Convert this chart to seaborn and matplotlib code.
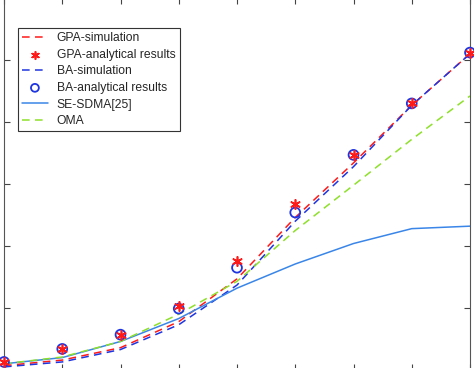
import matplotlib
matplotlib.use("Agg")
import matplotlib.pyplot as plt
import pandas as pd
import seaborn as sns

# x positions (no tick labels visible in the reference)
x_vals = [1, 2, 3, 4, 5, 6, 7, 8, 9]

gpa_sim = [0.07, 0.16, 0.36, 0.78, 1.47, 2.46, 3.34, 4.27, 5.10]
gpa_ana = [0.13, 0.34, 0.57, 1.03, 1.76, 2.67, 3.47, 4.30, 5.12]
ba_sim = [0.05, 0.13, 0.33, 0.73, 1.37, 2.40, 3.28, 4.27, 5.10]
ba_ana = [0.13, 0.34, 0.57, 0.99, 1.65, 2.54, 3.47, 4.30, 5.12]
se_sdma = [0.10, 0.20, 0.46, 0.83, 1.32, 1.71, 2.04, 2.28, 2.32]
oma = [0.10, 0.21, 0.46, 0.90, 1.43, 2.25, 2.98, 3.72, 4.42]

df = pd.DataFrame({
    "x": x_vals,
    "gpa_sim": gpa_sim,
    "gpa_ana": gpa_ana,
    "ba_sim": ba_sim,
    "ba_ana": ba_ana,
    "se_sdma": se_sdma,
    "oma": oma,
})

sns.set_style("white")
plt.rcParams["font.family"] = ["Liberation Sans", "DejaVu Sans"]

fig = plt.figure(figsize=(4.74, 3.68), dpi=100)
ax = fig.add_axes([4 / 474, -2 / 368, 466 / 474, 372 / 368])

red = "#ff1a1a"
blue = "#1f35e0"
lblue = "#3a86e8"
green = "#8ee02a"
dash = (5, 3.5)

ln = sns.lineplot(data=df, x="x", y="gpa_sim", ax=ax, color=red, lw=1.1,
                  label="GPA-simulation").lines[-1]
ln.set_dashes(dash)
sns.scatterplot(data=df, x="x", y="gpa_ana", ax=ax, color=red, marker=(6, 2, 0),
                s=45, linewidth=1.2, edgecolor=red, label="GPA-analytical results",
                clip_on=False, zorder=5)
ln = sns.lineplot(data=df, x="x", y="ba_sim", ax=ax, color=blue, lw=1.1,
                  label="BA-simulation").lines[-1]
ln.set_dashes(dash)
sns.scatterplot(data=df, x="x", y="ba_ana", ax=ax, marker="o", s=50,
                facecolor="none", edgecolor=blue, linewidth=1.3,
                label="BA-analytical results", clip_on=False, zorder=4)
sns.lineplot(data=df, x="x", y="se_sdma", ax=ax, color=lblue, lw=1.1,
             label="SE-SDMA[25]")
ln = sns.lineplot(data=df, x="x", y="oma", ax=ax, color=green, lw=1.1,
                  label="OMA").lines[-1]
ln.set_dashes(dash)

ax.set_xlim(1, 9)
ax.set_ylim(0, 6)
ax.set_xticks(x_vals)
ax.set_yticks([0, 1, 2, 3, 4, 5, 6])
ax.set_xticklabels([])
ax.set_yticklabels([])
ax.set_xlabel("")
ax.set_ylabel("")
ax.tick_params(direction="in", length=4, width=0.8, color="#444444",
               top=True, right=True, bottom=True, left=True)
for s in ax.spines.values():
    s.set_color("#555555")
    s.set_linewidth(0.8)

leg = ax.legend(loc="upper left", bbox_to_anchor=(14 / 466, 1 - 30 / 372),
                fontsize=8.7, frameon=True, fancybox=False, framealpha=1,
                edgecolor="#333333", handlelength=2.1, handletextpad=0.75,
                labelspacing=0.38, borderpad=0.35, markerscale=0.8,
                borderaxespad=0)
leg.get_frame().set_linewidth(0.8)

fig.savefig("out.png", dpi=100)
